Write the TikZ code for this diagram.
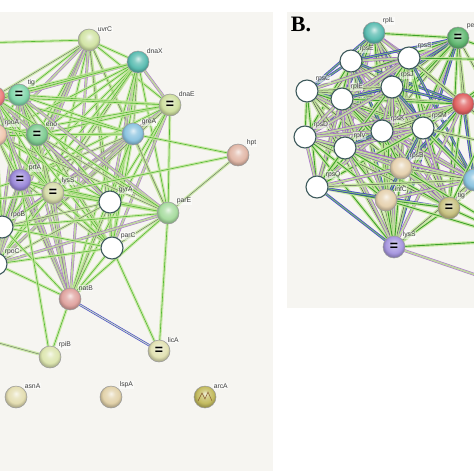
\documentclass[tikz,border=0pt]{standalone}
\usepackage{fontspec}
\setmainfont{Liberation Sans}
\newfontfamily\serifb{Liberation Serif}
\pgfdeclarelayer{bgl}\pgfdeclarelayer{edl}\pgfsetlayers{bgl,edl,main}
\definecolor{softc}{HTML}{CCCCCC}
\pgfdeclareradialshading[softc]{softball}{\pgfpoint{0bp}{8bp}}{color(0bp)=(softc!25!white); color(9bp)=(softc!75!white); color(19bp)=(softc); color(25bp)=(softc!80!black); color(50bp)=(softc!60!black)}
\definecolor{panel}{HTML}{F6F5F1}
\definecolor{bandg}{HTML}{C2E69A}
\definecolor{darkg}{HTML}{48B426}
\definecolor{darkgB}{HTML}{2F9A1C}
\definecolor{purp}{HTML}{A060C8}
\definecolor{nodeline}{HTML}{3E5A5C}
\definecolor{cuvrC}{HTML}{D2E4A6}
\definecolor{cteal}{HTML}{5CBDB2}
\definecolor{cdnaE}{HTML}{CFE0A0}
\definecolor{cgreA}{HTML}{8CC4E0}
\definecolor{chpt}{HTML}{E2B8A8}
\definecolor{ctig}{HTML}{80D6AA}
\definecolor{ceno}{HTML}{7FCC92}
\definecolor{crpoA}{HTML}{F0C8B0}
\definecolor{cpink}{HTML}{EE8080}
\definecolor{cprfA}{HTML}{9C8ADA}
\definecolor{clysS}{HTML}{D6DCAA}
\definecolor{cparE}{HTML}{A8DCA0}
\definecolor{cnatB}{HTML}{E0A4A0}
\definecolor{crpiB}{HTML}{DDE6B0}
\definecolor{clicA}{HTML}{E2E2B4}
\definecolor{casnA}{HTML}{E4DEB2}
\definecolor{clspA}{HTML}{E2D2AA}
\definecolor{carcA}{HTML}{C4BC60}
\definecolor{cgreen}{HTML}{62B872}
\definecolor{cred}{HTML}{E06262}
\definecolor{cbeige}{HTML}{E6D2B0}
\definecolor{colive}{HTML}{C8C282}
\definecolor{cpurB}{HTML}{A898E0}
\tikzset{
  ball/.style={circle, minimum size=22pt, inner sep=0pt, /utils/exec={\colorlet{softc}{#1}}, shading=softball, draw=black!40, line width=0.5pt},
  wball/.style={circle, minimum size=22pt, inner sep=0pt, fill=white, draw=nodeline, line width=1.1pt},
  lab/.style={font=\fontsize{6.8}{7}\selectfont, text=black!75, inner sep=0.6pt, fill=white, fill opacity=0.55, text opacity=1, anchor=south west},
  e1/.style={line width=3pt, draw=bandg, opacity=0.8, postaction={draw=darkg, line width=0.6pt, opacity=0.9}},
  e2/.style={line width=0.55pt, draw=purp, double=bandg, double distance=1.8pt, opacity=0.85},
  e3/.style={line width=3pt, draw=bandg, opacity=0.8, postaction={draw=black!70, line width=0.4pt, opacity=0.8}},
  e4/.style={line width=0.7pt, draw=blue!55!gray, double=bandg!60, double distance=0.9pt, opacity=0.9},
  f1/.style={line width=3.4pt, draw=bandg, opacity=0.85, postaction={draw=darkgB, line width=0.9pt, opacity=0.9}},
  f2/.style={line width=0.7pt, draw=purp, double=bandg, double distance=1.8pt, opacity=0.9},
  f3/.style={line width=3.4pt, draw=bandg, opacity=0.85, postaction={draw=black!75, line width=0.5pt, opacity=0.85}},
  f4/.style={line width=0.8pt, draw=blue!55!gray, double=darkg!70, double distance=1pt, opacity=0.9}
}
\newcommand\pn[6]{\node[#4] (#1) at (#2,#3) {#6}; \node[lab] (#1L) at ({#2+8},{#3-8}) {#5};}
\newcommand\eqsign{\fontsize{14}{14}\selectfont\bfseries =}
\begin{document}
\begin{tikzpicture}[x=1pt,y=-1pt]
\useasboundingbox (0,0) rectangle (474,474);
\begin{pgfonlayer}{bgl}
\fill[white] (0,0) rectangle (474,474);
\fill[panel] (0,12) rectangle (273,471);
\fill[panel] (287,12) rectangle (474,308);
\end{pgfonlayer}
% ---------- Panel A nodes
\pn{uvrC}{89}{40}{ball=cuvrC}{uvrC}{}
\pn{dnaX}{138}{62}{ball=cteal}{dnaX}{}
\pn{dnaE}{170}{105}{ball=cdnaE}{dnaE}{\eqsign}
\pn{greA}{133}{134}{ball=cgreA}{greA}{}
\pn{hpt}{238}{155}{ball=chpt}{hpt}{}
\pn{tig}{19}{95}{ball=ctig}{tig}{\eqsign}
\pn{eno}{37}{135}{ball=ceno}{eno}{\eqsign}
\pn{rpoA}{-4}{135}{ball=crpoA}{rpoA}{}
\node[ball=cpink] (pinkL) at (-6,97) {};
\pn{prfA}{20}{180}{ball=cprfA}{prfA}{\eqsign}
\pn{lysS}{53}{193}{ball=clysS}{lysS}{\eqsign}
\pn{gyrA}{110}{202}{wball}{gyrA}{}
\pn{parE}{168}{213}{ball=cparE}{parE}{}
\pn{parC}{112}{248}{wball}{parC}{}
\pn{rpoB}{2}{227}{wball}{rpoB}{}
\pn{rpoC}{-4}{264}{wball}{rpoC}{}
\pn{natB}{70}{299}{ball=cnatB}{natB}{}
\pn{rpiB}{50}{357}{ball=crpiB}{rpiB}{}
\pn{licA}{159}{351}{ball=clicA}{licA}{\eqsign}
\pn{asnA}{16}{397}{ball=casnA}{asnA}{}
\pn{lspA}{111}{397}{ball=clspA}{lspA}{}
\pn{arcA}{205}{397}{ball=carcA}{arcA}{}
\draw[brown!70!black, line width=0.5pt] (198,401) -- (202,393) -- (205,399) -- (208,392) -- (212,401);
\coordinate (offL1) at (-60,44);
\coordinate (offL2) at (-60,115);
\coordinate (offL3) at (-60,205);
\coordinate (offL4) at (-60,327);
% ---------- Panel B nodes
\node[font=\serifb\fontsize{22}{22}\selectfont\bfseries, inner sep=0pt] (Blab) at (301,24) {B.};
\pn{rplL}{374}{33}{ball=cteal}{rplL}{}
\pn{peX}{458}{38}{ball=cgreen}{pe}{\eqsign}
\pn{rpsE}{351}{61}{wball}{rpsE}{}
\pn{rpsS}{409}{58}{wball}{rpsS}{}
\pn{rpsC}{307}{91}{wball}{rpsC}{}
\pn{rplE}{342}{99}{wball}{rplE}{}
\pn{rpsJ}{392}{87}{wball}{rpsJ}{}
\node[ball=cred] (redB) at (463,104) {};
\pn{rpsK}{382}{131}{wball}{rpsK}{}
\pn{rpsM}{423}{128}{wball}{rpsM}{}
\pn{rpsD}{305}{137}{wball}{rpsD}{}
\pn{rplV}{345}{148}{wball}{rplV}{}
\pn{rpsB}{401}{168}{ball=cbeige}{rpsB}{}
\pn{rpsQ}{317}{187}{wball}{rpsQ}{}
\pn{infC}{386}{200}{ball=cbeige}{infC}{}
\pn{tigB}{449}{208}{ball=colive}{tig}{\eqsign}
\node[ball=cgreA] (blueB) at (474,180) {};
\pn{lysSB}{394}{247}{ball=cpurB}{lysS}{\eqsign}
\coordinate (offR1) at (520,60);
\coordinate (offR2) at (520,150);
\coordinate (offR3) at (520,240);
\coordinate (offR4) at (520,290);
% ---------- edges
\pgfmathsetseed{11}
\begin{pgfonlayer}{edl}
\def\listA{uvrC,dnaX,dnaE,greA,tig,eno,rpoA,pinkL,prfA,lysS,gyrA,parE,parC,rpoB,rpoC,natB}
\foreach \a [count=\i] in \listA {
  \foreach \b [count=\j] in \listA {
    \ifnum\i<\j
      \pgfmathrandominteger{\r}{1}{6}
      \ifnum\r=1 \draw[e2] (\a) -- (\b);
      \else\ifnum\r=2 \draw[e3] (\a) -- (\b);
      \else \draw[e1] (\a) -- (\b);
      \fi\fi
    \fi
  }
}
\draw[e1] (hpt) -- (greA);
\draw[e3] (hpt) -- (parE);
\draw[e1] (hpt) -- (lysS);
\draw[e4] (licA) -- (natB);
\draw[e1] (licA) -- (parE);
\draw[e1] (licA) -- (parC);
\draw[e1] (rpiB) -- (natB);
\draw[e1] (rpiB) -- (prfA);
\draw[e3] (rpiB) -- (offL4);
\draw[e1] (uvrC) -- (offL1);
\draw[e2] (tig) -- (offL2);
\draw[e1] (eno) -- (offL2);
\draw[e1] (dnaX) -- (offL2);
\draw[e1] (prfA) -- (offL3);
\draw[e3] (rpoB) -- (offL3);
\draw[e1] (lysS) -- (offL3);
\draw[e4] (rpoC) -- (offL4);
\def\listB{rplL,peX,rpsE,rpsS,rpsC,rplE,rpsJ,redB,rpsK,rpsM,rpsD,rplV,rpsB,rpsQ,infC,tigB,blueB,lysSB}
\foreach \a [count=\i] in \listB {
  \foreach \b [count=\j] in \listB {
    \ifnum\i<\j
      \pgfmathrandominteger{\r}{1}{6}
      \ifnum\r<3 \draw[f2] (\a) -- (\b);
      \else\ifnum\r=3 \draw[f3] (\a) -- (\b);
      \else\ifnum\r=4 \draw[f4] (\a) -- (\b);
      \else \draw[f1] (\a) -- (\b);
      \fi\fi\fi
    \fi
  }
}
\foreach \a in {peX,redB,tigB,rpsM,rpsS,blueB}{
  \draw[f1] (\a) -- (offR1);
  \draw[f3] (\a) -- (offR2);
}
\foreach \a in {tigB,lysSB,infC,rpsB}{
  \draw[f1] (\a) -- (offR3);
}
\draw[e2] (lysSB) -- (offR4);
\end{pgfonlayer}
\end{tikzpicture}
\end{document}
